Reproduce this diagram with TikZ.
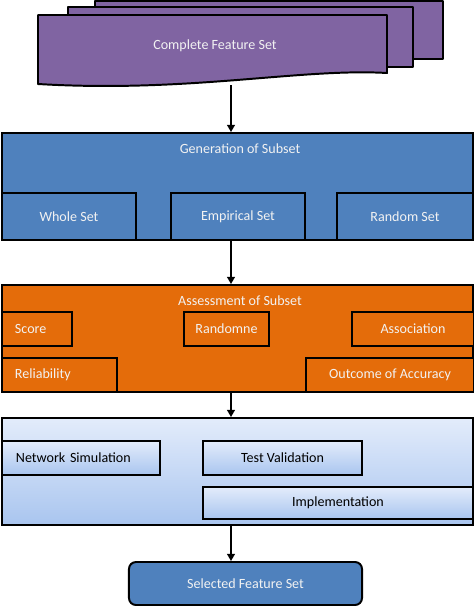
\documentclass[tikz,border=0pt]{standalone}
\usepackage{fontspec}
\setmainfont{Carlito}
\usetikzlibrary{arrows.meta}
\definecolor{sheetpurple}{HTML}{8064A2}
\definecolor{genblue}{HTML}{4F81BD}
\definecolor{assessorange}{HTML}{E46C0A}
\definecolor{paletop}{HTML}{E3ECFB}
\definecolor{palebottom}{HTML}{A9C5EF}
\definecolor{lighttext}{HTML}{F2F2F2}

\begin{document}
\begin{tikzpicture}[
  x=0.025cm, y=-0.025cm,
  font=\fontsize{10}{12}\selectfont,
  sheet/.style={draw=black, fill=sheetpurple, line width=1.4pt, line join=round},
  stage/.style={draw=black, line width=1.4pt, minimum width=11.775cm, minimum height=2.675cm, inner sep=0pt},
  genbox/.style={draw=black, fill=genblue, text=lighttext, line width=1.4pt, minimum height=1.175cm, inner sep=0pt},
  assessbox/.style={draw=black, fill=assessorange, text=lighttext, line width=1.4pt, minimum height=0.85cm, inner sep=0pt},
  palebox/.style={draw=black, top color=paletop, bottom color=palebottom, line width=1.4pt, minimum height=0.85cm, inner sep=0pt},
  arrow/.style={-{Triangle[length=5pt,width=5.5pt]}, line width=1pt, draw=black}
]
\useasboundingbox (0,0) rectangle (474,607);

% stacked sheets of the full feature set
\draw[sheet] (95,1) rectangle (443,59);
\draw[sheet] (68,7) rectangle (413,67);
\draw[sheet] (38,15) -- (387,15) -- (387,73)
  .. controls (300,68) and (190,93) .. (38,84) -- cycle;
\node[text=lighttext] (complete) at (215,46) {Complete Feature Set};
\coordinate (sheetbottom) at (231,85);

% generation of subset
\node[stage, fill=genblue] (gen) at (237.5,186.5) {};
\node[text=lighttext] (gentitle) at (240,149) {Generation of Subset};
\node[genbox, minimum width=3.35cm] (whole) at (69,216.5) {Whole Set};
\node[genbox, minimum width=3.35cm] (empirical) at (238,216.5) {Empirical Set};
\node[genbox, minimum width=3.4cm] (random) at (405,216.5) {Random Set};

% assessment of subset
\node[stage, fill=assessorange] (assess) at (237.5,338.5) {};
\node[text=lighttext] (assesstitle) at (240,301) {Assessment of Subset};
\node[assessbox, minimum width=1.75cm, text width=1.75cm-26*0.025cm, align=left] (score) at (37,329) {Score};
\node[assessbox, minimum width=2.125cm] (randomne) at (226.5,329) {Randomne};
\node[assessbox, minimum width=3.05cm] (association) at (413,329) {Association};
\node[assessbox, minimum width=2.875cm, text width=2.875cm-26*0.025cm, align=left] (reliability) at (59.5,375) {Reliability};
\node[assessbox, minimum width=4.2cm] (outcome) at (390,375) {Outcome of Accuracy};

% validation stage
\node[stage, top color=paletop, bottom color=palebottom] (valid) at (237.5,471.5) {};
\node[palebox, minimum width=3.95cm, text width=3.95cm-28*0.025cm, align=left] (network) at (81,458) {Network Simulation};
\node[palebox, minimum width=3.975cm] (testval) at (282.5,458) {Test Validation};
\node[palebox, minimum width=6.75cm, minimum height=0.8cm] (implement) at (338,503) {Implementation};

% result
\node[draw=black, fill=genblue, text=lighttext, line width=1.4pt, rounded corners=5pt,
  minimum width=5.825cm, minimum height=1.075cm] (selected) at (245.5,583.5) {Selected Feature Set};

\draw[arrow] (sheetbottom) -- (sheetbottom |- gen.north);
\draw[arrow] (sheetbottom |- gen.south) -- (sheetbottom |- assess.north);
\draw[arrow] (sheetbottom |- assess.south) -- (sheetbottom |- valid.north);
\draw[arrow] (sheetbottom |- valid.south) -- (sheetbottom |- selected.north);
\end{tikzpicture}
\end{document}
